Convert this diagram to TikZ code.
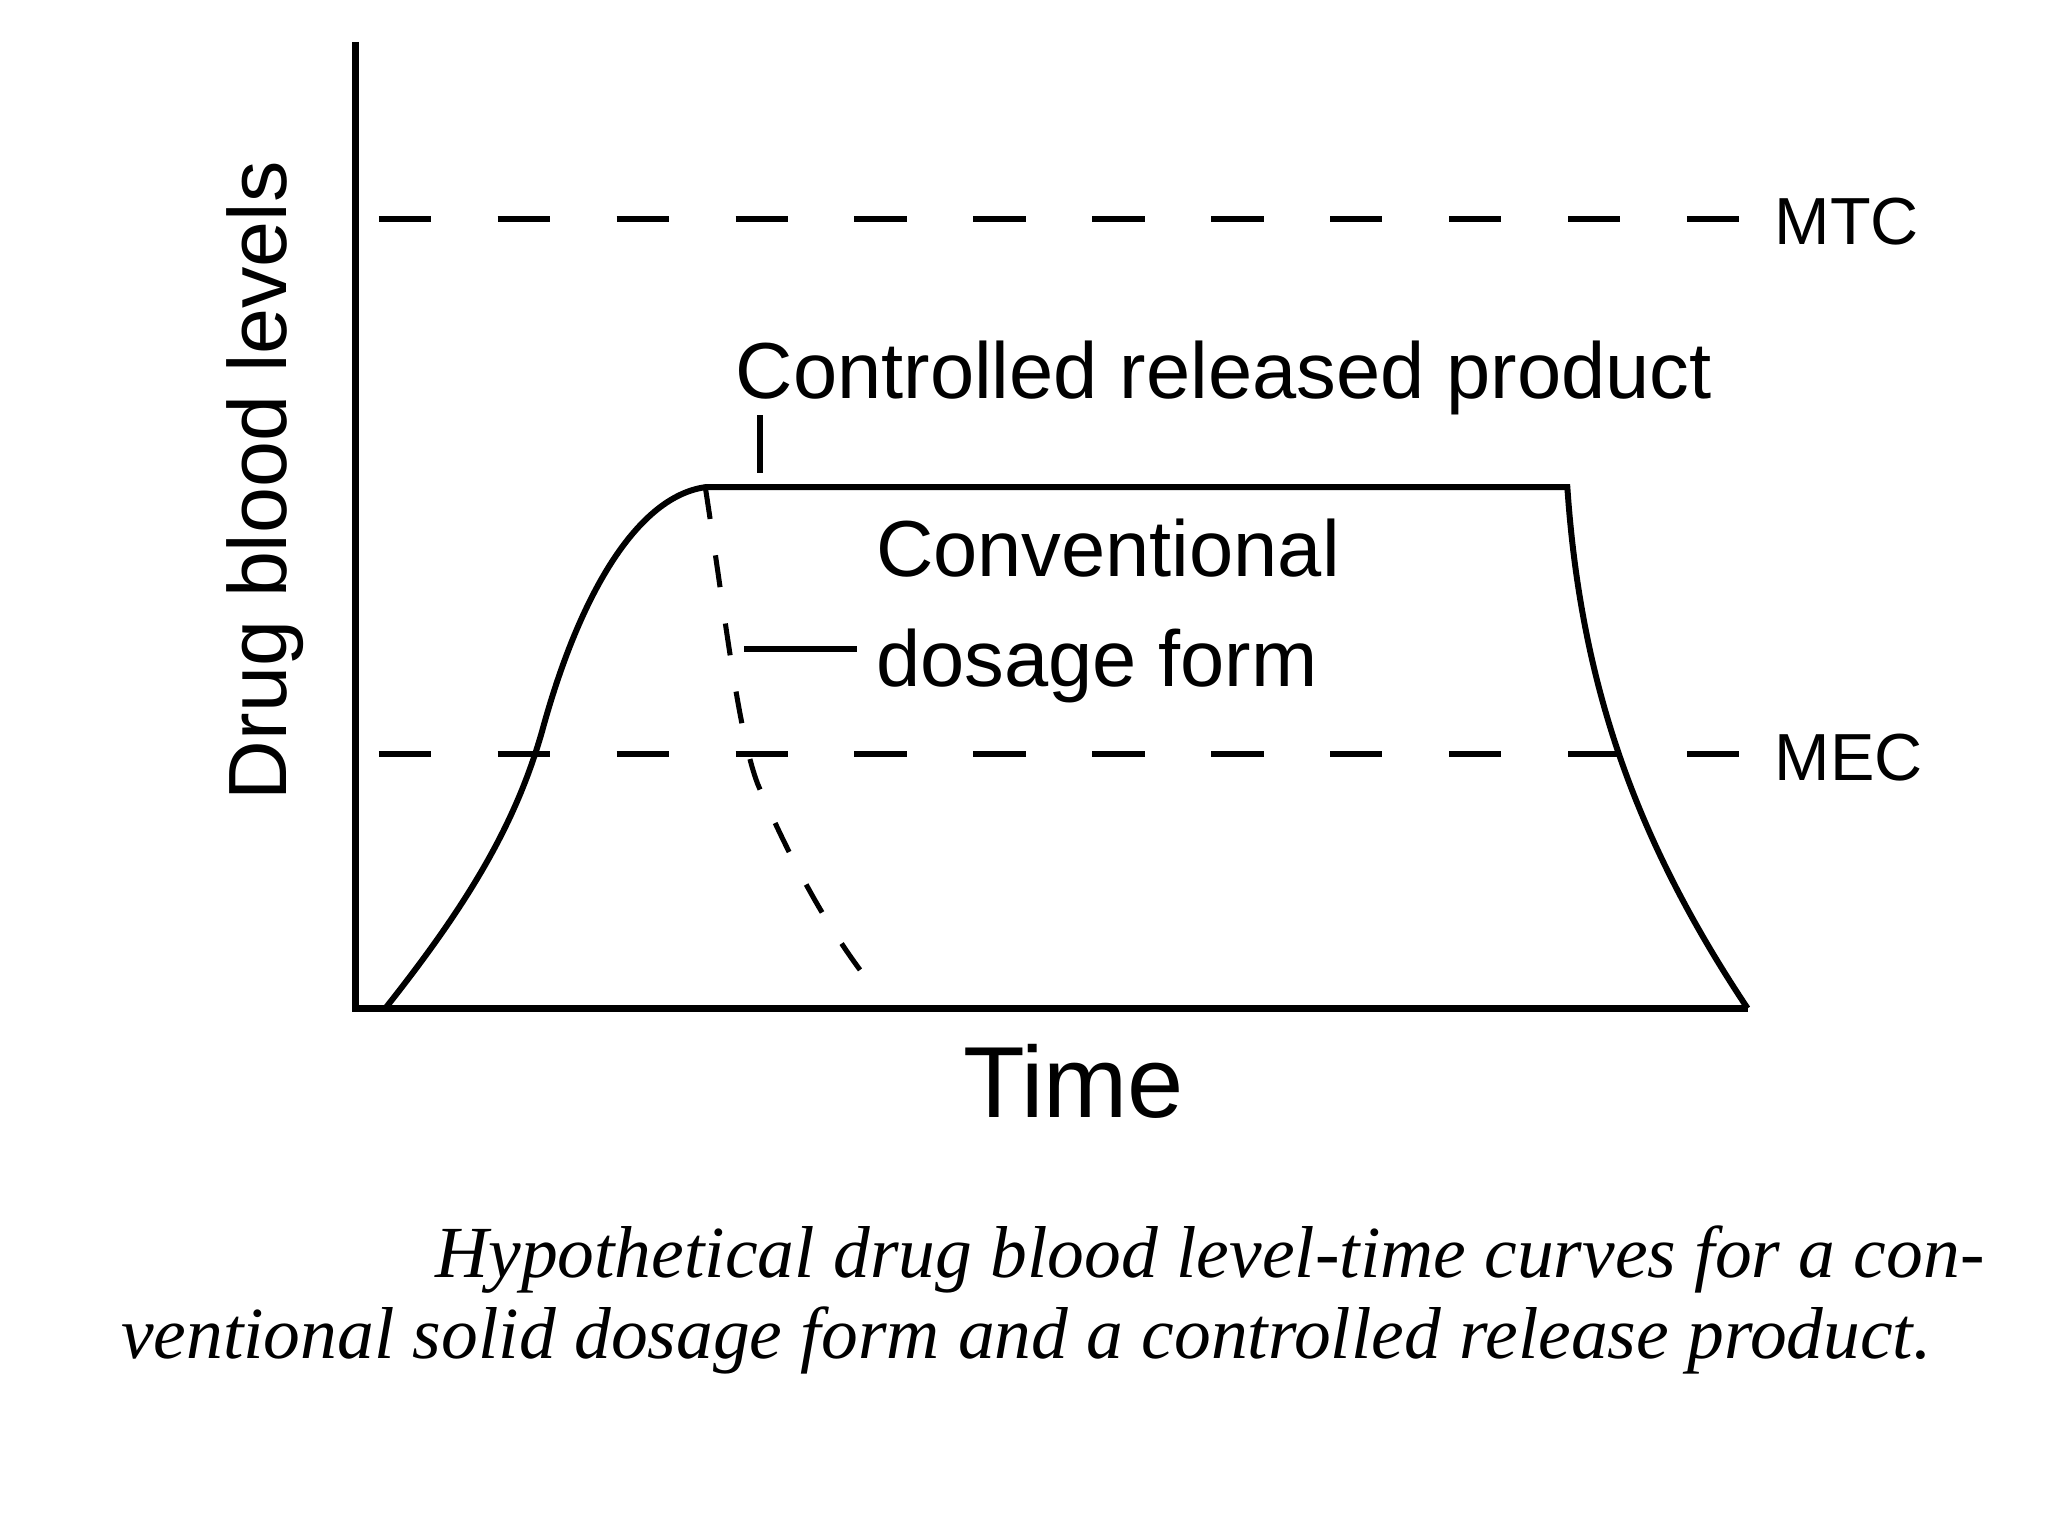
\documentclass[tikz,border=0pt]{standalone}
\usepackage{fontspec}
\setmainfont{Liberation Sans}
\newfontfamily\capfont{Liberation Serif}
\begin{document}
\begin{tikzpicture}[x=0.01cm,y=-0.01cm,
  lbl/.style={font=\fontsize{14.5}{17}\selectfont, inner sep=0},
  mid/.style={font=\fontsize{17.3}{24}\selectfont, inner sep=0},
  big/.style={font=\fontsize{18}{21}\selectfont, inner sep=0},
  hdash/.style={line width=1.3pt, dash pattern=on 0.4cm off 0.51cm},
  crv/.style={line width=1.3pt}]
\useasboundingbox (0,0) rectangle (1568,1176);
\fill[white] (0,0) rectangle (1568,1176);
\coordinate (top) at (272,32);
\coordinate (orig) at (272,772);
\coordinate (xend) at (1338,772);
\draw[line width=1.6pt] (top) -- (orig) -- (xend);
\coordinate (mtc0) at (290,168); \coordinate (mtc1) at (1337,168);
\coordinate (mec0) at (290,577); \coordinate (mec1) at (1337,577);
\draw[hdash] (mtc0) -- (mtc1);
\draw[hdash] (mec0) -- (mec1);
\node[lbl, anchor=west] (mtc) at (1358,170) {MTC};
\node[lbl, anchor=west] (mec) at (1358,580) {MEC};
\coordinate (s) at (295,772);
\coordinate (pk) at (540,373);
\coordinate (pe) at (1200,373);
\coordinate (e) at (1338,772);
\draw[crv] (s) .. controls (360,690) and (395,630) .. (415,560)
  .. controls (445,450) and (490,380) .. (pk) -- (pe)
  .. controls (1210,520) and (1250,640) .. (e);
\coordinate (ce) at (668,755);
\draw[line width=1.1pt, dash pattern=on 7pt off 8pt] (pk) .. controls (555,470) and (565,560) .. (580,600) .. controls (610,670) and (640,720) .. (ce);
\node[mid, anchor=base] (crp) at (937,305) {Controlled released product};
\coordinate (t0) at (582,318); \coordinate (t1) at (582,362);
\draw[line width=1.3pt] (t0) -- (t1);
\node[mid, anchor=west, align=left] (conv) at (670,468) {Conventional\\dosage form};
\coordinate (l0) at (570,497); \coordinate (l1) at (656,497);
\draw[line width=1.2pt] (l0) -- (l1);
\node[font=\fontsize{22}{26}\selectfont, inner sep=0] (time) at (822,828) {Time};
\node[big, rotate=90] (ylab) at (203,368) {Drug blood levels};
\node[font=\capfont\itshape\fontsize{16}{20}\selectfont, inner sep=0, anchor=base east] (c1) at (1520,978) {Hypothetical drug blood level-time curves for a con-};
\node[font=\capfont\itshape\fontsize{16}{20}\selectfont, inner sep=0, anchor=base west] (c2) at (92,1040) {ventional solid dosage form and a controlled release product.};
\end{tikzpicture}
\end{document}
